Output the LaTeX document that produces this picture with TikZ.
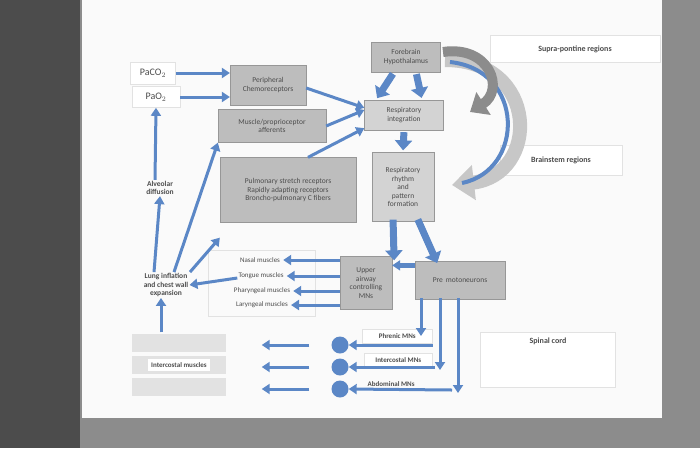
\documentclass[tikz,border=0pt]{standalone}
\usepackage{fontspec}
\setmainfont{Carlito}
\usetikzlibrary{arrows.meta,positioning}
\definecolor{ab}{HTML}{5B87C6}
\definecolor{gb}{HTML}{BDBDBD}
\definecolor{fb}{HTML}{E2E2E2}
\begin{document}
\begin{tikzpicture}[x=1pt,y=-1pt,
 ar/.style={draw=ab,line width=3pt,-{Triangle[length=8pt,width=10pt]}},
 big/.style={draw=ab,line width=7pt,-{Triangle[length=10pt,width=17pt]},shorten >=2pt,shorten <=2pt},
 gbox/.style={fill=gb,draw=gb!80!black,line width=.3pt,font=\fontsize{7.5}{8.5}\selectfont,text=black!70,align=center,inner sep=1pt},
 wbox/.style={draw=fb,line width=.6pt,fill=white,font=\fontsize{7.5}{8.5}\selectfont\bfseries,text=black!70,align=center},
 lab/.style={font=\fontsize{7}{8}\selectfont,text=black!70,align=center,inner sep=1pt},
 blab/.style={font=\fontsize{7.5}{8.5}\selectfont\bfseries,text=black!70,align=center,inner sep=1pt}]
\useasboundingbox (0,0) rectangle (700,448);
\fill[black!70] (0,0) rectangle (700,448);
\fill[black!45] (80,0) rectangle (700,448);
\fill[white!96!gray] (82,0) rectangle (662,418);
% boxes
\node[wbox,minimum width=170,minimum height=27,font=\fontsize{8}{9}\selectfont\bfseries] (supra) at (575,49) {Supra-pontine regions};
\node[wbox,minimum width=122,minimum height=30,font=\fontsize{8}{9}\selectfont\bfseries] (brain) at (561,160) {Brainstem regions};
\node[wbox,minimum width=135,minimum height=55,font=\fontsize{8}{9}\selectfont\bfseries,anchor=north] (spinal) at (548,332) {Spinal cord\\[30pt]};
\node[gbox,minimum width=69,minimum height=30] (fore) at (406,57) {Forebrain\\Hypothalamus};
\node[wbox,minimum width=45,minimum height=22,font=\fontsize{10}{11}\selectfont] (paco) at (153,73) {PaCO$_2$};
\node[wbox,minimum width=48,minimum height=21,font=\fontsize{10}{11}\selectfont] (pao) at (156,97) {PaO$_2$};
\node[gbox,minimum width=76,minimum height=40] (peri) at (268,85) {Peripheral\\Chemoreceptors};
\node[gbox,minimum width=79,minimum height=30,fill=fb!85!gray] (integ) at (404,115) {Respiratory\\integration};
\node[gbox,minimum width=108,minimum height=33] (musc) at (272,126) {Muscle/proprioceptor\\afferents};
\node[gbox,minimum width=136,minimum height=65] (pulm) at (288,190) {Pulmonary stretch receptors\\Rapidly adapting receptors\\Broncho-pulmonary C fibers};
\node[gbox,minimum width=62,minimum height=69,fill=fb!85!gray] (rhythm) at (403,187) {Respiratory\\rhythm\\and\\pattern\\formation};
\node[blab] (alv) at (160,188) {Alveolar\\diffusion};
\draw[fb,line width=.5pt] (208,250) rectangle (315,316);
\node[blab,fill=white!96!gray] (lung) at (166,285) {Lung inflation\\and chest wall\\expansion};
\node[lab] (nasal) at (260,260) {Nasal muscles};
\node[lab] (tongue) at (261,276) {Tongue muscles};
\node[lab] (phar) at (262,291) {Pharyngeal muscles};
\node[lab] (lar) at (262,305) {Laryngeal muscles};
\node[gbox,minimum width=52,minimum height=53] (upper) at (366,283) {Upper\\airway\\controlling\\MNs};
\node[gbox,minimum width=90,minimum height=38] (pre) at (460,280) {Pre\, motoneurons};
\node[wbox,minimum width=70,minimum height=14,font=\fontsize{7}{8}\selectfont\bfseries,anchor=west] (phr) at (362,336) {Phrenic MNs};
\node[wbox,minimum width=68,minimum height=14,font=\fontsize{7}{8}\selectfont\bfseries,anchor=west] (icm) at (364,360) {Intercostal MNs};
\node[wbox,draw=none,fill=none,minimum height=14,font=\fontsize{7}{8}\selectfont\bfseries,anchor=west] (abd) at (364,384) {Abdominal MNs};
\foreach \i/\y in {1/345,2/367,3/389}{
 \node[circle,fill=ab,minimum size=17,inner sep=0] (c\i) at (340,\y) {};
 \node[draw=fb,fill=fb,minimum width=93,minimum height=17,inner sep=0] (m\i) at (179,\y-2) {};
 \draw[ar] (c\i.west)++(-22,0) coordinate(s\i) -- ([xshift=36]m\i.east|-s\i);
}
\node[font=\fontsize{7}{8}\selectfont\bfseries,text=black!70,fill=white] at (m2) {Intercostal muscles};
% arrows
\draw[ar] (paco.east) -- (peri.west|-paco.east);
\draw[ar] (pao.east) -- (peri.west|-pao.east);
\draw[ar] (peri.east) ++(0,3) -- ([yshift=-8pt]integ.north west);
\draw[ar] (musc.east) -- ([yshift=5]integ.west);
\draw[ar] ([xshift=20]pulm.north) -- ([yshift=2]integ.south west);
\draw[big] ([xshift=-12]fore.south) -- ([xshift=-28]integ.north);
\draw[big] ([xshift=10]fore.south) -- ([xshift=18]integ.north);
\draw[big] (integ.south) -- (rhythm.north);
\draw[big] ([xshift=-10,yshift=4]rhythm.south) -- ([xshift=2,yshift=-6]upper.north east);
\draw[big] ([xshift=14,yshift=4]rhythm.south) -- ([xshift=-22,yshift=-4]pre.north);
\draw[ar,line width=5pt] (pre.west|-upper.north) ++(0,9) coordinate(p) -- (upper.east|-p);
\foreach \t in {nasal,tongue,phar,lar}{ \draw[ar] (upper.west|-\t) -- ([xshift=2]\t.east); }
\draw[ar] ([yshift=-2]tongue.west) -- (lung.east);
\draw[ar] ([xshift=-12]lung.north) -- (alv.south);
\draw[ar] ([xshift=-5]alv.north) -- (pao.south);
\draw[ar] ([xshift=8]lung.north) -- (musc.south west);
\draw[ar] ([xshift=24]lung.north) -- ([yshift=-15]pulm.south west);
\draw[ar] (m1.north-|lung) ++(-5,-2) coordinate(q) -- (q|-lung.south);
\coordinate (d1) at (421,298); \coordinate (d2) at (440,298); \coordinate (d3) at (458,298);
\draw[ar] (d1) -- (d1|-phr.east) ; \draw[ar] (phr.east|-c1) -- (c1.east);
\draw[ar] (d2) -- (440,370); \draw[ar] (435,367) -- (c2.east);
\draw[ar] (d3) -- (458,393); \draw[ar] (452,390) -- (c3.east);
% curved arrows
\draw[gb!85!white,line width=14pt,-{Triangle[length=22pt,width=34pt]}] (445,60) .. controls (540,60) and (540,175) .. (452,185);
\draw[ab,line width=4pt] (450,62) .. controls (525,70) and (525,170) .. (462,183);
\draw[black!45,line width=10pt,-{Triangle[length=16pt,width=26pt]}] (443,52) .. controls (490,45) and (505,90) .. (470,112);
\end{tikzpicture}
\end{document}
